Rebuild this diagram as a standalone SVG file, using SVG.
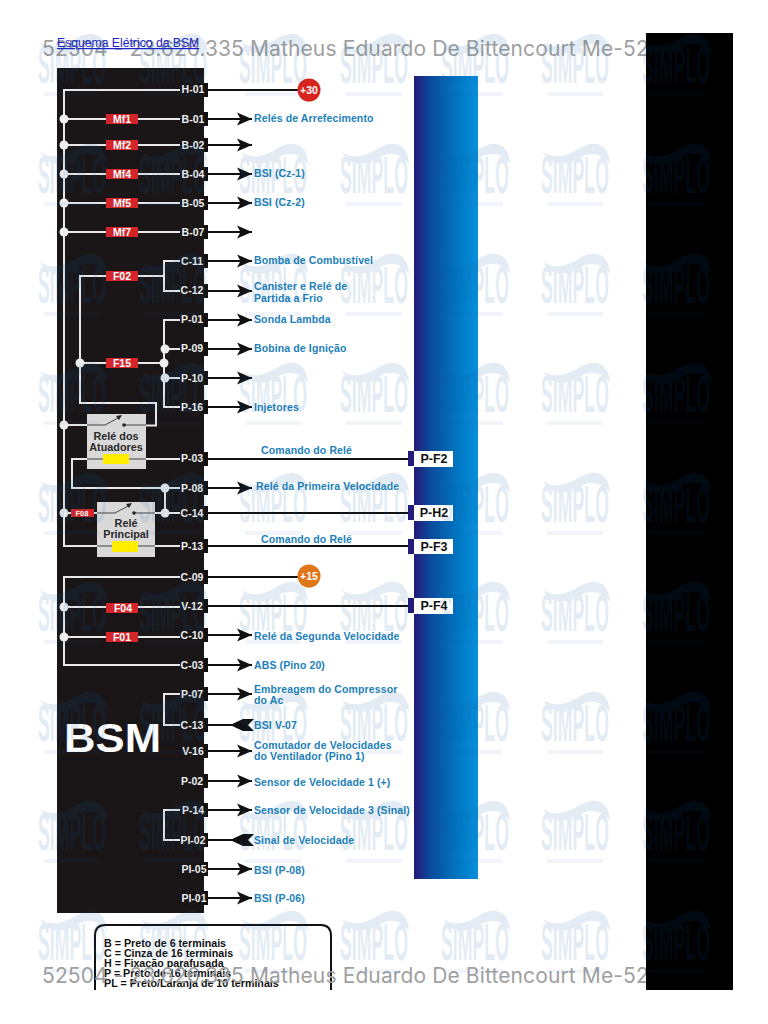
<svg xmlns="http://www.w3.org/2000/svg" width="768" height="1024" viewBox="0 0 768 1024">
<style>
text{font-family:"Liberation Sans",Arial,sans-serif}
.pin{font-size:10.5px;font-weight:700;fill:#eee;text-anchor:middle}
.lbl{font-size:10.5px;font-weight:700;fill:#1c80ba;letter-spacing:.12px}
.fuse{font-size:10.5px;font-weight:700;fill:#fff;text-anchor:middle}
.w{stroke:#e8e8e8;fill:none;stroke-width:2}
.k{stroke:#111;fill:none;stroke-width:1.8}
.tab{fill:#111}
.dot{fill:#eee}
.red{fill:#d3252a}
.rel{fill:#d9d9d9}
.yel{fill:#ffee00}
.relt{font-size:10.800px;font-weight:700;fill:#2a2a2a;text-anchor:middle}
.pf{fill:#fff}
.pft{font-size:12.5px;font-weight:700;fill:#111;text-anchor:middle}
.leg{font-size:10.7px;font-weight:700;fill:#111}
.wm{font-size:52px;font-weight:700;fill:#0b5fa5;text-anchor:middle}
text.hdr{font-family:Inter,Roboto,"Liberation Sans",sans-serif;font-size:21px;letter-spacing:.12px;fill:#a0a0a0}
</style>
<defs>
<marker id="ah" markerUnits="userSpaceOnUse" markerWidth="16" markerHeight="14" refX="15" refY="7" orient="auto"><path d="M0 0.5L15 7L0 13.5L3.5 7Z" fill="#111"/></marker>
<linearGradient id="bar" x1="0" x2="1" y1="0" y2="0"><stop offset="0" stop-color="#241a78"/><stop offset=".25" stop-color="#0b4a9a"/><stop offset=".7" stop-color="#0078c4"/><stop offset="1" stop-color="#0a8fdc"/></linearGradient>
<g id="wmk" opacity=".11">
<path d="M-32 -26C-20 -18 -8 -22 5 -30C18 -38 34 -36 35 -14C28 -24 18 -26 8 -22C-4 -14 -22 -8 -32 -26Z" fill="#0b5fa5"/>
<text class="wm" textLength="68" lengthAdjust="spacingAndGlyphs" y="15">SIMPLO</text>
<rect x="-28" y="24" width="56" height="4" fill="#0b5fa5" opacity=".5"/>
</g>
</defs>
<rect width="768" height="1024" fill="#fff"/>
<rect x="57" y="68" width="147" height="845" fill="#1a1617"/>
<rect x="414" y="76" width="64" height="803" fill="url(#bar)"/>
<g id="connectors">
<path class="w" d="M180 90H64V546H97M64 119H108M135 119H180M64 145H108M135 145H180M64 174H108M135 174H180M64 203H108M135 203H180M64 232H108M135 232H180"/>
<path class="w" d="M180 261H164V291H180M164 276H135M108 276H80V403H156V425.500H146M80 363H108M135 363H164M180 320H164V407H180M164 349H180M164 378H180"/>
<path class="w" d="M64 425H87M87 459H72V488H180M146 459H180M165 488V513M64 513H72M92 513H97M155 513H180M155 546H180"/>
<path class="w" d="M180 577H64V665H180M64 607H108M135 607H180M64 637H108M135 637H180"/>
<path class="w" d="M180 694H164V725H180M180 810H164V840H180"/>
<path class="k" marker-end="url(#ah)" d="M204 119H252"/><path class="k" marker-end="url(#ah)" d="M204 145H252"/><path class="k" marker-end="url(#ah)" d="M204 174H252"/><path class="k" marker-end="url(#ah)" d="M204 203H252"/><path class="k" marker-end="url(#ah)" d="M204 232H252"/><path class="k" marker-end="url(#ah)" d="M204 261H252"/><path class="k" marker-end="url(#ah)" d="M204 291H252"/><path class="k" marker-end="url(#ah)" d="M204 320H252"/><path class="k" marker-end="url(#ah)" d="M204 349H252"/><path class="k" marker-end="url(#ah)" d="M204 378H252"/><path class="k" marker-end="url(#ah)" d="M204 407H252"/><path class="k" marker-end="url(#ah)" d="M204 488H252"/><path class="k" marker-end="url(#ah)" d="M204 635H252"/><path class="k" marker-end="url(#ah)" d="M204 665H252"/><path class="k" marker-end="url(#ah)" d="M204 694H252"/><path class="k" marker-end="url(#ah)" d="M204 751H252"/><path class="k" marker-end="url(#ah)" d="M204 781H252"/><path class="k" marker-end="url(#ah)" d="M204 810H252"/><path class="k" marker-end="url(#ah)" d="M204 869H252"/><path class="k" marker-end="url(#ah)" d="M204 898H252"/>
<path class="k" d="M204 725H240M204 840H240M204 90H300M204 459H410M204 513H410M204 546H410M204 577H300M204 606H410"/>
<path d="M230 725L243 719H254L248 725L254 731H243Z" fill="#111"/>
<path d="M230 840L243 834H254L248 840L254 846H243Z" fill="#111"/>
</g>
<g id="tabs"><path class="tab" d="M204 83h4v14h-4zM204 112h4v14h-4zM204 138h4v14h-4zM204 167h4v14h-4zM204 196h4v14h-4zM204 225h4v14h-4zM204 254h4v14h-4zM204 284h4v14h-4zM204 313h4v14h-4zM204 342h4v14h-4zM204 371h4v14h-4zM204 400h4v14h-4zM204 452h4v14h-4zM204 481h4v14h-4zM204 506h4v14h-4zM204 539h4v14h-4zM204 570h4v14h-4zM204 599h4v14h-4zM204 628h4v14h-4zM204 658h4v14h-4zM204 687h4v14h-4zM204 718h4v14h-4zM204 744h4v14h-4zM204 774h4v14h-4zM204 803h4v14h-4zM204 833h4v14h-4zM204 862h4v14h-4zM204 891h4v14h-4z"/></g>
<g id="dots"><circle class="dot" cx="64" cy="119" r="4.500"/><circle class="dot" cx="64" cy="145" r="4.500"/><circle class="dot" cx="64" cy="174" r="4.500"/><circle class="dot" cx="64" cy="203" r="4.500"/><circle class="dot" cx="64" cy="232" r="4.500"/><circle class="dot" cx="80" cy="363" r="4.500"/><circle class="dot" cx="165" cy="349" r="4.500"/><circle class="dot" cx="164" cy="363" r="4.500"/><circle class="dot" cx="165" cy="378" r="4.500"/><circle class="dot" cx="64" cy="425" r="4.500"/><circle class="dot" cx="165" cy="488" r="4.500"/><circle class="dot" cx="165" cy="513" r="4.500"/><circle class="dot" cx="64" cy="513" r="4.500"/><circle class="dot" cx="64" cy="607" r="4.500"/><circle class="dot" cx="64" cy="637" r="4.500"/></g>
<g id="fuses">
<g id="mf1"><rect class="red" x="106" y="114" width="32" height="10"/><text class="fuse" x="122" y="123">Mf1</text></g>
<g id="mf2"><rect class="red" x="106" y="140" width="32" height="10"/><text class="fuse" x="122" y="149">Mf2</text></g>
<g id="mf4"><rect class="red" x="106" y="169" width="32" height="10"/><text class="fuse" x="122" y="178">Mf4</text></g>
<g id="mf5"><rect class="red" x="106" y="198" width="32" height="10"/><text class="fuse" x="122" y="207">Mf5</text></g>
<g id="mf7"><rect class="red" x="106" y="227" width="32" height="10"/><text class="fuse" x="122" y="236">Mf7</text></g>
<g id="f02"><rect class="red" x="106" y="271" width="32" height="10"/><text class="fuse" x="122" y="280">F02</text></g>
<g id="f15"><rect class="red" x="106" y="358" width="32" height="10"/><text class="fuse" x="122" y="367">F15</text></g>
<g id="f08"><rect class="red" x="71" y="509" width="23" height="8"/><text class="fuse" x="82" y="516" style="font-size:7.5px">F08</text></g>
<g id="f04"><rect class="red" x="106" y="603" width="32" height="10"/><text class="fuse" x="123" y="612">F04</text></g>
<g id="f01"><rect class="red" x="106" y="632" width="32" height="10"/><text class="fuse" x="122" y="641">F01</text></g>
</g>
<g id="rele-atuadores"><rect class="rel" x="87" y="414" width="59" height="55"/><path d="M87 425H105L120 417M124 425H146M87 459H146" stroke="#444" fill="none"/><path d="M116 416L122 415L119 420Z" fill="#222"/><circle cx="124" cy="425" r="1.800" fill="#222"/><text class="relt" x="116" y="440">Relé dos</text><text class="relt" x="116" y="451">Atuadores</text><rect class="yel" x="103" y="454" width="26" height="10"/></g>
<g id="rele-principal"><rect class="rel" x="97" y="502" width="58" height="55"/><path d="M97 513H115L130 505M134 513H155M97 546H155" stroke="#444" fill="none"/><path d="M126 504L132 503L129 508Z" fill="#222"/><circle cx="134" cy="513" r="1.800" fill="#222"/><text class="relt" x="126" y="527">Relé</text><text class="relt" x="126" y="538">Principal</text><rect class="yel" x="112" y="541" width="26" height="11"/></g>
<g id="pins">
<text class="pin" x="193" y="93">H-01</text><text class="pin" x="193" y="123">B-01</text><text class="pin" x="193" y="149">B-02</text><text class="pin" x="193" y="178">B-04</text><text class="pin" x="193" y="207">B-05</text><text class="pin" x="193" y="236">B-07</text><text class="pin" x="192" y="265">C-11</text><text class="pin" x="192" y="294">C-12</text><text class="pin" x="192" y="323">P-01</text><text class="pin" x="192" y="352">P-09</text><text class="pin" x="192" y="382">P-10</text><text class="pin" x="192" y="411">P-16</text><text class="pin" x="192" y="462">P-03</text><text class="pin" x="192" y="492">P-08</text><text class="pin" x="192" y="517">C-14</text><text class="pin" x="192" y="550">P-13</text><text class="pin" x="192" y="581">C-09</text><text class="pin" x="192" y="610">V-12</text><text class="pin" x="192" y="639">C-10</text><text class="pin" x="192" y="669">C-03</text><text class="pin" x="192" y="698">P-07</text><text class="pin" x="192" y="729">C-13</text><text class="pin" x="193" y="755">V-16</text><text class="pin" x="192" y="785">P-02</text><text class="pin" x="193" y="814">P-14</text><text class="pin" x="193" y="844">PI-02</text><text class="pin" x="194" y="873">PI-05</text><text class="pin" x="194" y="902">PI-01</text>
</g>
<g id="labels">
<text class="lbl" x="254" y="122">Relés de Arrefecimento</text><text class="lbl" x="254" y="177">BSI (Cz-1)</text><text class="lbl" x="254" y="206">BSI (Cz-2)</text><text class="lbl" x="254" y="264">Bomba de Combustível</text><text class="lbl" x="254" y="290">Canister e Relé de</text><text class="lbl" x="254" y="302">Partida a Frio</text><text class="lbl" x="254" y="323">Sonda Lambda</text><text class="lbl" x="254" y="352">Bobina de Ignição</text><text class="lbl" x="254" y="411">Injetores</text><text class="lbl" x="261" y="454">Comando do Relé</text><text class="lbl" x="256" y="490">Relé da Primeira Velocidade</text><text class="lbl" x="261" y="543">Comando do Relé</text><text class="lbl" x="254" y="640">Relé da Segunda Velocidade</text><text class="lbl" x="254" y="669">ABS (Pino 20)</text><text class="lbl" x="254" y="693">Embreagem do Compressor</text><text class="lbl" x="254" y="704">do Ac</text><text class="lbl" x="254" y="729">BSI V-07</text><text class="lbl" x="254" y="749">Comutador de Velocidades</text><text class="lbl" x="254" y="760">do Ventilador (Pino 1)</text><text class="lbl" x="254" y="786">Sensor de Velocidade 1 (+)</text><text class="lbl" x="254" y="814">Sensor de Velocidade 3 (Sinal)</text><text class="lbl" x="254" y="844">Sinal de Velocidade</text><text class="lbl" x="254" y="874">BSI (P-08)</text><text class="lbl" x="254" y="902">BSI (P-06)</text>
</g>
<g id="term-30"><circle cx="309" cy="90" r="11.500" fill="#d9231f"/><text x="309" y="94" font-size="10.500" font-weight="700" fill="#fff" text-anchor="middle">+30</text></g>
<g id="term-15"><circle cx="309" cy="576" r="11.500" fill="#e0761a"/><text x="309" y="580" font-size="10.500" font-weight="700" fill="#fff" text-anchor="middle">+15</text></g>
<g id="p-f2"><rect x="408" y="451" width="6" height="15" fill="#241a78"/><rect class="pf" x="414" y="451" width="39" height="16"/><text class="pft" x="434" y="463">P-F2</text></g>
<g id="p-h2"><rect x="408" y="505" width="6" height="15" fill="#241a78"/><rect class="pf" x="414" y="505" width="39" height="16"/><text class="pft" x="434" y="517">P-H2</text></g>
<g id="p-f3"><rect x="408" y="539" width="6" height="15" fill="#241a78"/><rect class="pf" x="414" y="539" width="39" height="15"/><text class="pft" x="434" y="551">P-F3</text></g>
<g id="p-f4"><rect x="408" y="598" width="6" height="15" fill="#241a78"/><rect class="pf" x="414" y="598" width="39" height="16"/><text class="pft" x="434" y="610">P-F4</text></g>
<text x="64" y="752" font-size="40" font-weight="700" fill="#fff" textLength="97" lengthAdjust="spacingAndGlyphs">BSM</text>
<g id="legend">
<path d="M95 990V936Q95 925 105 925H321Q331 925 331 936V990" fill="#fff" stroke="#111" stroke-width="2"/>
<text class="leg" x="104" y="947">B = Preto de 6 terminais</text><text class="leg" x="104" y="957">C = Cinza de 16 terminais</text><text class="leg" x="104" y="967">H = Fixação parafusada</text><text class="leg" x="104" y="977">P = Preto de 16 terminais</text><text class="leg" x="104" y="987">PL = Preto/Laranja de 10 terminais</text>
</g>
<rect x="0" y="990" width="768" height="34" fill="#fff"/>
<g id="header">
<text class="hdr" x="42" y="56">52504 - 23.626.335 Matheus Eduardo De Bittencourt Me-52</text>
<text class="hdr" x="42" y="983">52504 - 23.626.335 Matheus Eduardo De Bittencourt Me-52</text>
<text x="57" y="47" font-size="12.200" fill="#1a22cc" text-decoration="underline">Esquema Elétrico da BSM</text>
</g>
<rect x="646" y="33" width="87" height="957" fill="#000"/>
<g id="watermarks">
<use href="#wmk" x="72" y="68"/><use href="#wmk" x="173" y="68"/><use href="#wmk" x="273" y="68"/><use href="#wmk" x="374" y="68"/><use href="#wmk" x="475" y="68"/><use href="#wmk" x="575" y="68"/><use href="#wmk" x="676" y="68"/>
<use href="#wmk" x="72" y="178"/><use href="#wmk" x="173" y="178"/><use href="#wmk" x="273" y="178"/><use href="#wmk" x="374" y="178"/><use href="#wmk" x="475" y="178"/><use href="#wmk" x="575" y="178"/><use href="#wmk" x="676" y="178"/>
<use href="#wmk" x="72" y="288"/><use href="#wmk" x="173" y="288"/><use href="#wmk" x="273" y="288"/><use href="#wmk" x="374" y="288"/><use href="#wmk" x="475" y="288"/><use href="#wmk" x="575" y="288"/><use href="#wmk" x="676" y="288"/>
<use href="#wmk" x="72" y="397"/><use href="#wmk" x="173" y="397"/><use href="#wmk" x="273" y="397"/><use href="#wmk" x="374" y="397"/><use href="#wmk" x="475" y="397"/><use href="#wmk" x="575" y="397"/><use href="#wmk" x="676" y="397"/>
<use href="#wmk" x="72" y="507"/><use href="#wmk" x="173" y="507"/><use href="#wmk" x="273" y="507"/><use href="#wmk" x="374" y="507"/><use href="#wmk" x="475" y="507"/><use href="#wmk" x="575" y="507"/><use href="#wmk" x="676" y="507"/>
<use href="#wmk" x="72" y="616"/><use href="#wmk" x="173" y="616"/><use href="#wmk" x="273" y="616"/><use href="#wmk" x="374" y="616"/><use href="#wmk" x="475" y="616"/><use href="#wmk" x="575" y="616"/><use href="#wmk" x="676" y="616"/>
<use href="#wmk" x="72" y="726"/><use href="#wmk" x="173" y="726"/><use href="#wmk" x="273" y="726"/><use href="#wmk" x="374" y="726"/><use href="#wmk" x="475" y="726"/><use href="#wmk" x="575" y="726"/><use href="#wmk" x="676" y="726"/>
<use href="#wmk" x="72" y="835"/><use href="#wmk" x="173" y="835"/><use href="#wmk" x="273" y="835"/><use href="#wmk" x="374" y="835"/><use href="#wmk" x="475" y="835"/><use href="#wmk" x="575" y="835"/><use href="#wmk" x="676" y="835"/>
<use href="#wmk" x="72" y="945"/><use href="#wmk" x="173" y="945"/><use href="#wmk" x="273" y="945"/><use href="#wmk" x="374" y="945"/><use href="#wmk" x="475" y="945"/><use href="#wmk" x="575" y="945"/><use href="#wmk" x="676" y="945"/>
</g>
</svg>
